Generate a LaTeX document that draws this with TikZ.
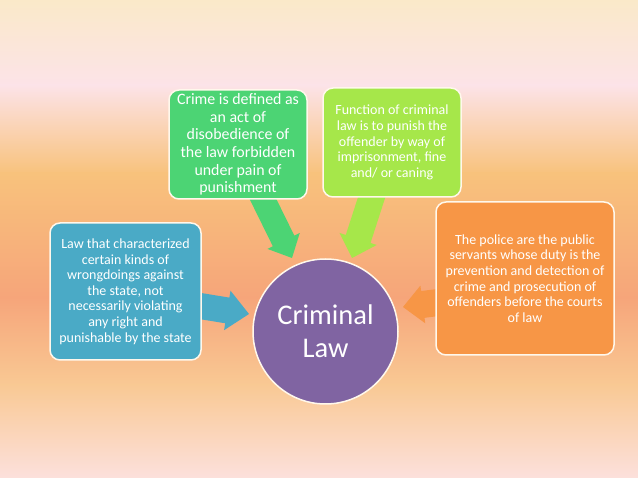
\documentclass[tikz,border=0pt]{standalone}
\usepackage{fontspec}
\setmainfont{Carlito}
\usetikzlibrary{calc}
\definecolor{bgA}{HTML}{FAE9C9}
\definecolor{bgB}{HTML}{FCE3E8}
\definecolor{bgC}{HTML}{F8C27C}
\definecolor{bgD}{HTML}{F6A57A}
\definecolor{bgE}{HTML}{F9C994}
\definecolor{bgF}{HTML}{FCE0DC}
\definecolor{cgreen}{HTML}{4CD474}
\definecolor{clime}{HTML}{A6E74A}
\definecolor{cblue}{HTML}{4AAAC6}
\definecolor{corange}{HTML}{F79646}
\definecolor{cpurple}{HTML}{8064A2}
\definecolor{cedge}{HTML}{FFF8EC}
\newcommand\fatarr[5]{%
  \coordinate (#1h) at ($(#1e)!#5!(#1s)$);
  \fill[#2] ($(#1s)!#3!90:(#1e)$) -- ($(#1h)!#3!90:(#1e)$) -- ($(#1h)!#4!90:(#1e)$)
    -- (#1e) -- ($(#1h)!#4!-90:(#1e)$) -- ($(#1h)!#3!-90:(#1e)$) -- ($(#1s)!#3!-90:(#1e)$) -- cycle;}
\tikzset{
  box/.style={draw=cedge, line width=1.5pt, rounded corners=10pt, text=white,
    align=center, inner sep=2pt, font=\fontsize{14}{15.6}\selectfont},
}
\begin{document}
\begin{tikzpicture}[x=1pt,y=-1pt]
\useasboundingbox (0,0) rectangle (638,478);
% background
\shade[top color=bgA, bottom color=bgB] (0,0) rectangle (638,86);
\shade[top color=bgB, bottom color=bgC] (0,85) rectangle (638,174);
\shade[top color=bgC, bottom color=bgD] (0,173) rectangle (638,298);
\shade[top color=bgD, bottom color=bgE] (0,297) rectangle (638,386);
\shade[top color=bgE, bottom color=bgF] (0,385) rectangle (638,478);
% arrows
\coordinate (gs) at (259,191); \coordinate (ge) at (292,258);
\coordinate (ls) at (374,190); \coordinate (le) at (352,258);
\coordinate (bs) at (194,305); \coordinate (be) at (249,314);
\coordinate (os) at (442,302); \coordinate (oe) at (403,307);
\fatarr{g}{cgreen}{12pt}{18pt}{19pt}
\fatarr{l}{clime}{13pt}{19.5pt}{20pt}
\fatarr{b}{cblue}{13pt}{20pt}{22pt}
\fatarr{o}{corange}{13.5pt}{19pt}{20pt}
% boxes
\node[box, fill=cgreen, minimum width=138pt, minimum height=109pt,
  font=\fontsize{15.9}{17.6}\selectfont] (crime) at (238,144.5)
  {Crime is defined as\\an act of\\disobedience of\\the law forbidden\\under pain of\\punishment};
\node[box, fill=clime, minimum width=138pt, minimum height=109pt] (func) at (392,142.5)
  {Function of criminal\\law is to punish the\\offender by way of\\imprisonment, fine\\and/ or caning};
\node[box, fill=cblue, minimum width=151pt, minimum height=137pt] (lawdef) at (125.5,291.5)
  {Law that characterized\\certain kinds of\\wrongdoings against\\the state, not\\necessarily violating\\any right and\\punishable by the state};
\node[box, fill=corange, minimum width=178pt, minimum height=153pt] (police) at (525,278.5)
  {The police are the public\\servants whose duty is the\\prevention and detection of\\crime and prosecution of\\offenders before the courts\\of law};
\node[circle, draw=cedge, line width=1.5pt, fill=cpurple, minimum size=145pt, inner sep=0pt,
  text=white, align=center, font=\fontsize{28.5}{33}\selectfont] (core) at (325.5,331.5)
  {Criminal\\Law};
\end{tikzpicture}
\end{document}
